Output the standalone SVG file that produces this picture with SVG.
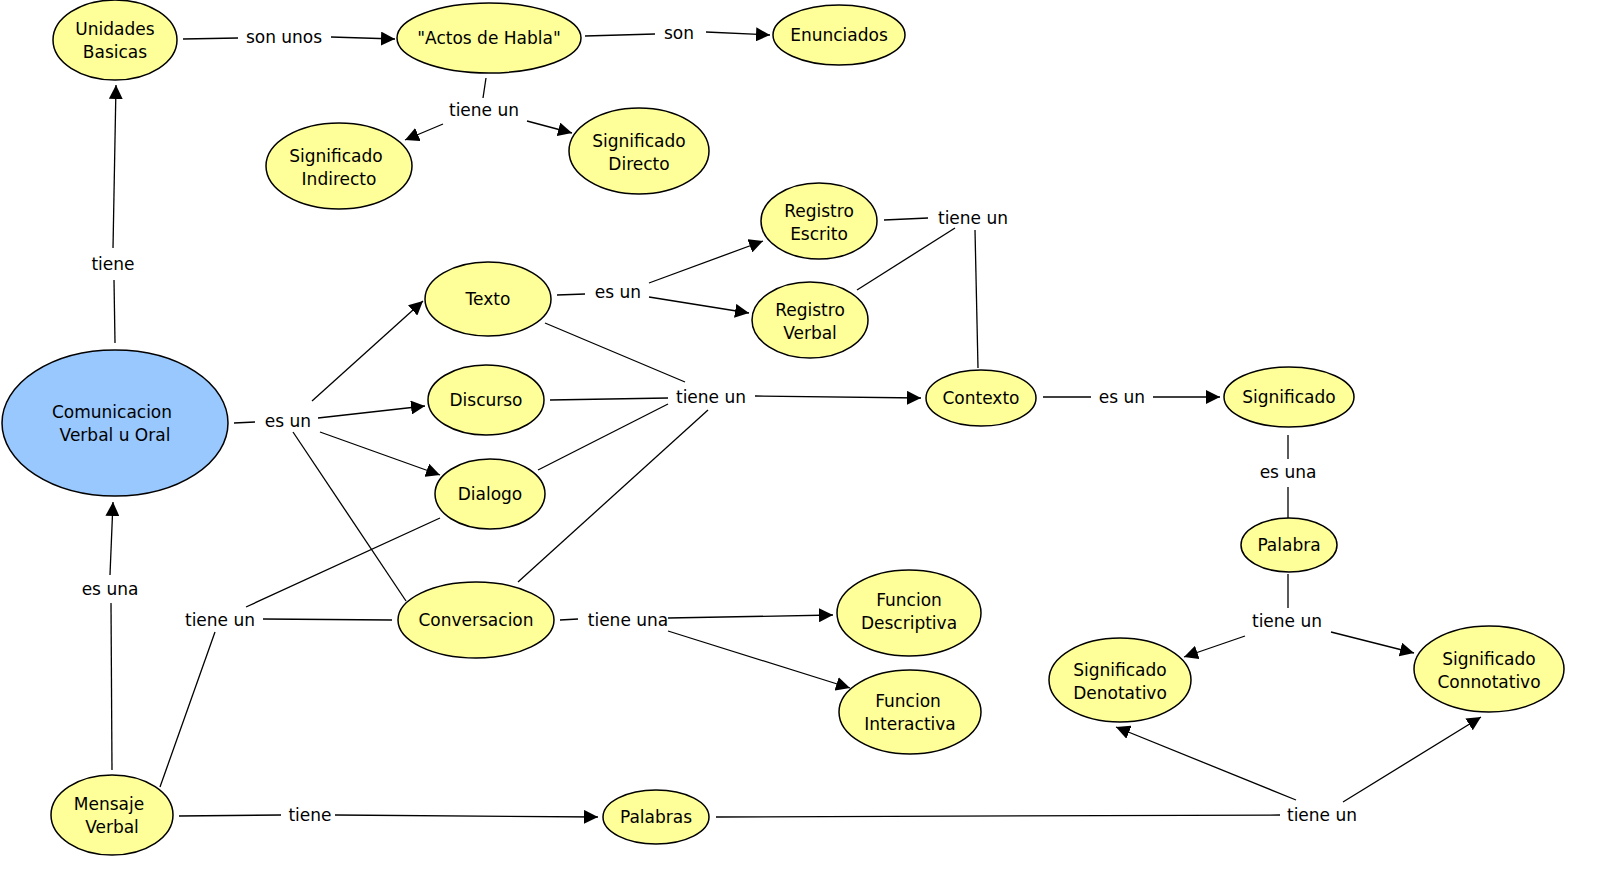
<svg xmlns="http://www.w3.org/2000/svg" width="1600" height="875" viewBox="0 0 1600 875">
<style>
.n ellipse{fill:#ffff99;stroke:#000;stroke-width:1.5}
text{font-family:"DejaVu Sans",Verdana,sans-serif;font-size:17px;text-anchor:middle;fill:#000}
#c line{stroke:#000;stroke-width:1.3}
.a{marker-end:url(#ar)}
</style>
<defs><marker id="ar" viewBox="0 0 10 10" refX="10" refY="5" markerWidth="14" markerHeight="14" markerUnits="userSpaceOnUse" orient="auto"><path d="M0,0L10,5L0,10z"/></marker></defs>
<rect width="1600" height="875" fill="#fff"/>
<g id="c">
<line x1="183" y1="39" x2="238" y2="38"/><line class="a" x1="331" y1="37" x2="395" y2="39"/>
<line x1="585" y1="36" x2="655" y2="34"/><line class="a" x1="706" y1="32" x2="770" y2="35"/>
<line x1="486" y1="78" x2="483" y2="98"/><line class="a" x1="443" y1="124" x2="405" y2="140"/><line class="a" x1="527" y1="121" x2="572" y2="133"/>
<line x1="115" y1="343" x2="114" y2="280"/><line class="a" x1="113" y1="248" x2="116" y2="85"/>
<line x1="234" y1="423" x2="255" y2="422"/><line class="a" x1="318" y1="418" x2="425" y2="406"/><line class="a" x1="312" y1="401" x2="423" y2="301"/><line class="a" x1="320" y1="432" x2="440" y2="475"/><line x1="293" y1="432" x2="406" y2="601"/>
<line x1="557" y1="295" x2="585" y2="294"/><line class="a" x1="649" y1="283" x2="763" y2="241"/><line class="a" x1="649" y1="297" x2="749" y2="313"/>
<line x1="884" y1="220" x2="928" y2="218"/><line x1="857" y1="290" x2="955" y2="228"/><line x1="975" y1="230" x2="978" y2="368"/>
<line x1="550" y1="400" x2="668" y2="398"/><line x1="545" y1="323" x2="685" y2="382"/><line x1="538" y1="470" x2="668" y2="404"/><line x1="518" y1="582" x2="708" y2="410"/><line class="a" x1="755" y1="396" x2="921" y2="398"/>
<line x1="1043" y1="397" x2="1091" y2="397"/><line class="a" x1="1153" y1="397" x2="1220" y2="397"/>
<line x1="1288" y1="435" x2="1288" y2="459"/><line x1="1288" y1="487" x2="1288" y2="518"/>
<line x1="1288" y1="574" x2="1288" y2="608"/><line class="a" x1="1245" y1="636" x2="1184" y2="657"/><line class="a" x1="1331" y1="632" x2="1414" y2="653"/>
<line x1="112" y1="770" x2="111" y2="603"/><line class="a" x1="110" y1="575" x2="113" y2="502"/>
<line x1="263" y1="619" x2="392" y2="620"/><line x1="246" y1="607" x2="440" y2="518"/><line x1="215" y1="632" x2="160" y2="787"/>
<line x1="560" y1="620" x2="578" y2="619"/><line class="a" x1="668" y1="618" x2="833" y2="615"/><line class="a" x1="668" y1="631" x2="850" y2="688"/>
<line x1="179" y1="816" x2="281" y2="815"/><line class="a" x1="335" y1="815" x2="598" y2="817"/>
<line x1="716" y1="817" x2="1280" y2="815"/><line class="a" x1="1296" y1="800" x2="1116" y2="727"/><line class="a" x1="1343" y1="802" x2="1481" y2="717"/>
</g>
<g id="labels">
<text x="284" y="43">son unos</text><text x="679" y="39">son</text><text x="484" y="116">tiene un</text>
<text x="113" y="270">tiene</text><text x="288" y="427">es un</text><text x="618" y="298">es un</text>
<text x="973" y="224">tiene un</text><text x="711" y="403">tiene un</text><text x="1122" y="403">es un</text>
<text x="1288" y="478">es una</text><text x="1287" y="627">tiene un</text><text x="110" y="595">es una</text>
<text x="220" y="626">tiene un</text><text x="628" y="626">tiene una</text><text x="310" y="821">tiene</text><text x="1322" y="821">tiene un</text>
</g>
<g id="n1" class="n"><ellipse cx="115" cy="40" rx="62" ry="40"/><text x="115" y="35">Unidades</text><text x="115" y="58">Basicas</text></g>
<g id="n2" class="n"><ellipse cx="489" cy="38" rx="92" ry="35"/><text x="489" y="44">"Actos de Habla"</text></g>
<g id="n3" class="n"><ellipse cx="839" cy="35" rx="66" ry="30"/><text x="839" y="41">Enunciados</text></g>
<g id="n4" class="n"><ellipse cx="339" cy="166" rx="73" ry="43"/><text x="336" y="162">Significado</text><text x="339" y="185">Indirecto</text></g>
<g id="n5" class="n"><ellipse cx="639" cy="151" rx="70" ry="43"/><text x="639" y="147">Significado</text><text x="639" y="170">Directo</text></g>
<g id="n6" class="n"><ellipse cx="819" cy="221" rx="58" ry="38"/><text x="819" y="217">Registro</text><text x="819" y="240">Escrito</text></g>
<g id="n7" class="n"><ellipse cx="810" cy="320" rx="58" ry="38"/><text x="810" y="316">Registro</text><text x="810" y="339">Verbal</text></g>
<g id="n8" class="n"><ellipse cx="488" cy="299" rx="63" ry="37"/><text x="488" y="305">Texto</text></g>
<g id="n9" class="n"><ellipse cx="486" cy="400" rx="58" ry="35"/><text x="486" y="406">Discurso</text></g>
<g id="n10" class="n"><ellipse cx="490" cy="494" rx="55" ry="35"/><text x="490" y="500">Dialogo</text></g>
<g id="n11" class="n"><ellipse cx="115" cy="423" rx="113" ry="73" style="fill:#99c8ff"/><text x="112" y="418">Comunicacion</text><text x="115" y="441">Verbal u Oral</text></g>
<g id="n12" class="n"><ellipse cx="981" cy="398" rx="55" ry="28"/><text x="981" y="404">Contexto</text></g>
<g id="n13" class="n"><ellipse cx="1289" cy="397" rx="65" ry="30"/><text x="1289" y="403">Significado</text></g>
<g id="n14" class="n"><ellipse cx="1289" cy="545" rx="48" ry="27"/><text x="1289" y="551">Palabra</text></g>
<g id="n15" class="n"><ellipse cx="476" cy="620" rx="78" ry="38"/><text x="476" y="626">Conversacion</text></g>
<g id="n16" class="n"><ellipse cx="909" cy="613" rx="72" ry="43"/><text x="909" y="606">Funcion</text><text x="909" y="629">Descriptiva</text></g>
<g id="n17" class="n"><ellipse cx="910" cy="712" rx="71" ry="42"/><text x="908" y="707">Funcion</text><text x="910" y="730">Interactiva</text></g>
<g id="n18" class="n"><ellipse cx="1120" cy="680" rx="71" ry="42"/><text x="1120" y="676">Significado</text><text x="1120" y="699">Denotativo</text></g>
<g id="n19" class="n"><ellipse cx="1489" cy="669" rx="75" ry="43"/><text x="1489" y="665">Significado</text><text x="1489" y="688">Connotativo</text></g>
<g id="n20" class="n"><ellipse cx="112" cy="815" rx="61" ry="40"/><text x="109" y="810">Mensaje</text><text x="112" y="833">Verbal</text></g>
<g id="n21" class="n"><ellipse cx="656" cy="817" rx="53" ry="27"/><text x="656" y="823">Palabras</text></g>
</svg>
